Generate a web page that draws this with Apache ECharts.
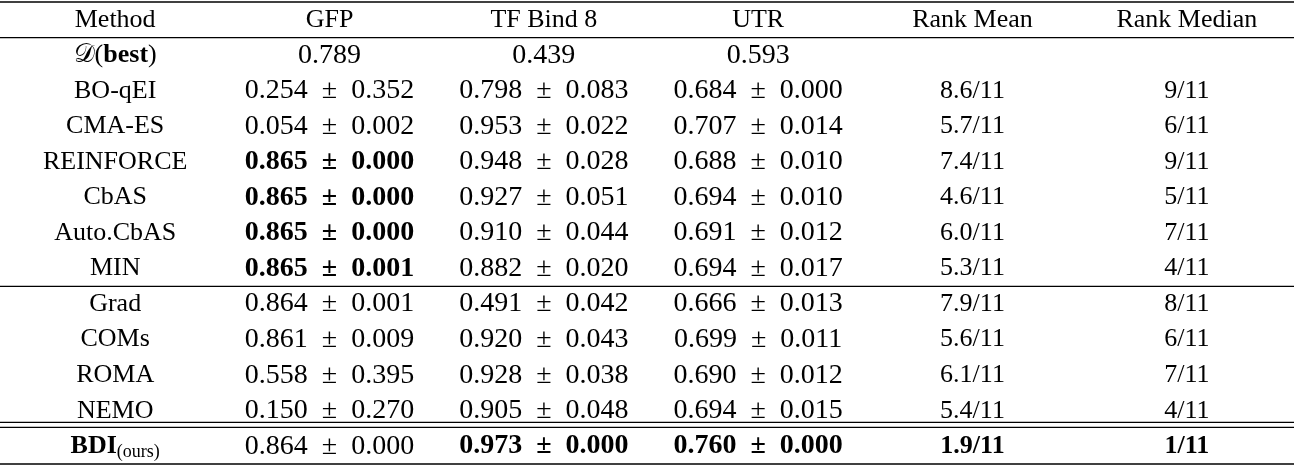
<!DOCTYPE html>
<html><head><meta charset="utf-8">
<script src="https://cdn.jsdelivr.net/npm/echarts@6/dist/echarts.min.js"></script>
<style>html,body{margin:0;background:#fff}#c{width:1294px;height:471px}</style>
</head><body><div id="c"></div>
<script>
const columns = ['Method','GFP','TF Bind 8','UTR','Rank Mean','Rank Median'];
const methods = ['𝒟({b|best})','BO-qEI','CMA-ES','REINFORCE','CbAS','Auto.CbAS','MIN','Grad','COMs','ROMA','NEMO','{b|BDI}{sub|(ours)}'];
const gfp = ['0.789','0.254 ± 0.352','0.054 ± 0.002','{b|0.865 ± 0.000}','{b|0.865 ± 0.000}','{b|0.865 ± 0.000}','{b|0.865 ± 0.001}','0.864 ± 0.001','0.861 ± 0.009','0.558 ± 0.395','0.150 ± 0.270','0.864 ± 0.000'];
const tfbind = ['0.439','0.798 ± 0.083','0.953 ± 0.022','0.948 ± 0.028','0.927 ± 0.051','0.910 ± 0.044','0.882 ± 0.020','0.491 ± 0.042','0.920 ± 0.043','0.928 ± 0.038','0.905 ± 0.048','{b|0.973 ± 0.000}'];
const utr = ['0.593','0.684 ± 0.000','0.707 ± 0.014','0.688 ± 0.010','0.694 ± 0.010','0.691 ± 0.012','0.694 ± 0.017','0.666 ± 0.013','0.699 ± 0.011','0.690 ± 0.012','0.694 ± 0.015','{b|0.760 ± 0.000}'];
const rankMean = ['','8.6/11','5.7/11','7.4/11','4.6/11','6.0/11','5.3/11','7.9/11','5.6/11','6.1/11','5.4/11','{b|1.9/11}'];
const rankMedian = ['','9/11','6/11','9/11','5/11','7/11','4/11','8/11','6/11','7/11','4/11','{b|1/11}'];
// rules: [line above row i, double?]
const rules = [[0,0],[1,0],[8,0],[12,1],[13,0]];

const rows = ['h'].concat(methods.map((m,i)=>'r'+i));
const cols = [methods,gfp,tfbind,utr,rankMean,rankMedian];
const cells = [];
columns.forEach((c,j)=>cells.push([j,0,c]));
cols.forEach((arr,j)=>arr.forEach((t,i)=>cells.push([j,i+1,j>0?t.replace(' ± ','\u2002±\u2002'):t])));

const font = '"Liberation Serif","DejaVu Serif",serif';
const chart = echarts.init(document.getElementById('c'));
chart.setOption({
  animation:false,
  grid:{left:8,right:-12,top:2,bottom:7},
  xAxis:{type:'category',data:columns,show:false},
  yAxis:{type:'category',data:rows,inverse:true,show:false},
  series:[{
    type:'custom',
    data:cells,
    renderItem:(p,api)=>{
      const j=api.value(0);
      const pt=api.coord([j,api.value(1)]);
      const fs=(j>0&&j<4&&api.value(1)>0)?28:26;
      return {type:'text',style:{text:cells[p.dataIndex][2],x:pt[0],y:pt[1],align:'center',verticalAlign:'middle',
        font:fs+'px '+font,fill:'#000',
        rich:{b:{font:'bold '+fs+'px '+font,fill:'#000'},sub:{font:'18px '+font,fill:'#000',padding:[12,0,0,0]}}}};
    }
  },{
    type:'custom',
    data:rules,
    renderItem:(p,api)=>{
      const r=api.value(0), dbl=api.value(1);
      const h=api.size([0,1])[1];
      const a=api.coord([0,0]);
      const y=a[1]-h/2+r*h;
      const mk=yy=>({type:'line',shape:{x1:0,y1:yy,x2:1294,y2:yy},style:{stroke:'#000',lineWidth:1.3}});
      if(dbl) return {type:'group',children:[mk(y-6),mk(y-1)]};
      return mk(y);
    }
  }]
});
</script></body></html>
